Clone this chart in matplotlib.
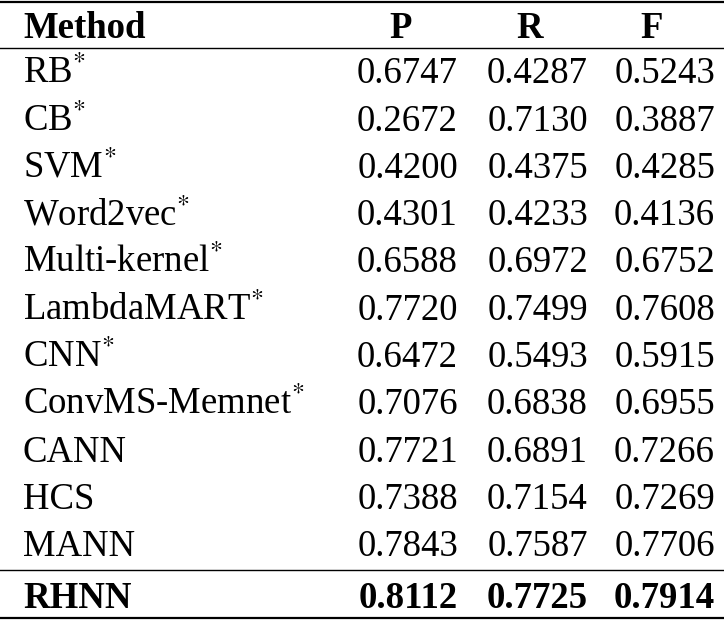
import numpy as np
import matplotlib
matplotlib.use("Agg")
import matplotlib.pyplot as plt

plt.rcParams['font.family'] = ['Liberation Serif', 'DejaVu Serif']
plt.rcParams['mathtext.fontset'] = 'stix'

columns = ['Method', 'P', 'R', 'F']
methods = ['RB', 'CB', 'SVM', 'Word2vec', 'Multi-kernel', 'LambdaMART', 'CNN',
           'ConvMS-Memnet', 'CANN', 'HCS', 'MANN', 'RHNN']
starred = [True, True, True, True, True, True, True, True, False, False, False, False]
P = [0.6747, 0.2672, 0.4200, 0.4301, 0.6588, 0.7720, 0.6472, 0.7076, 0.7721, 0.7388, 0.7843, 0.8112]
R = [0.4287, 0.7130, 0.4375, 0.4233, 0.6972, 0.7499, 0.5493, 0.6838, 0.6891, 0.7154, 0.7587, 0.7725]
F = [0.5243, 0.3887, 0.4285, 0.4136, 0.6752, 0.7608, 0.5915, 0.6955, 0.7266, 0.7269, 0.7706, 0.7914]

W, H = 724, 621
fig = plt.figure(figsize=(W / 100, H / 100), dpi=100)
ax = fig.add_axes([0, 0, 1, 1])
ax.set_xlim(0, W)
ax.set_ylim(H, 0)
ax.axis('off')

fs = 26.5
x_name = 23
x_right = [458, 588, 715]      # right edge of each number column
x_head = [401, 530, 652]       # centre of P, R, F headers

# rules
ax.axhline(2, color='black', lw=1.6)
ax.axhline(48, color='black', lw=1.0)
ax.axhline(570, color='black', lw=1.0)
ax.axhline(618, color='black', lw=1.6)

# header
y_head = 24
ax.text(x_name, y_head, columns[0], fontsize=fs, fontweight='bold', va='center_baseline', ha='left')
for xh, c in zip(x_head, columns[1:]):
    ax.text(xh, y_head, c, fontsize=fs, fontweight='bold', va='center_baseline', ha='center')

y0, dy = 70, 47.3
for i, m in enumerate(methods):
    last = i == len(methods) - 1
    y = 594 if last else y0 + i * dy
    w = 'bold' if last else 'normal'
    label = m + (r'$^{*}$' if starred[i] else '')
    ax.text(x_name, y, label, fontsize=fs, fontweight=w, va='center_baseline', ha='left')
    for xr, v in zip(x_right, (P[i], R[i], F[i])):
        ax.text(xr, y, f'{v:.4f}', fontsize=fs, fontweight=w, va='center_baseline', ha='right')

fig.savefig('out.png', dpi=100)
